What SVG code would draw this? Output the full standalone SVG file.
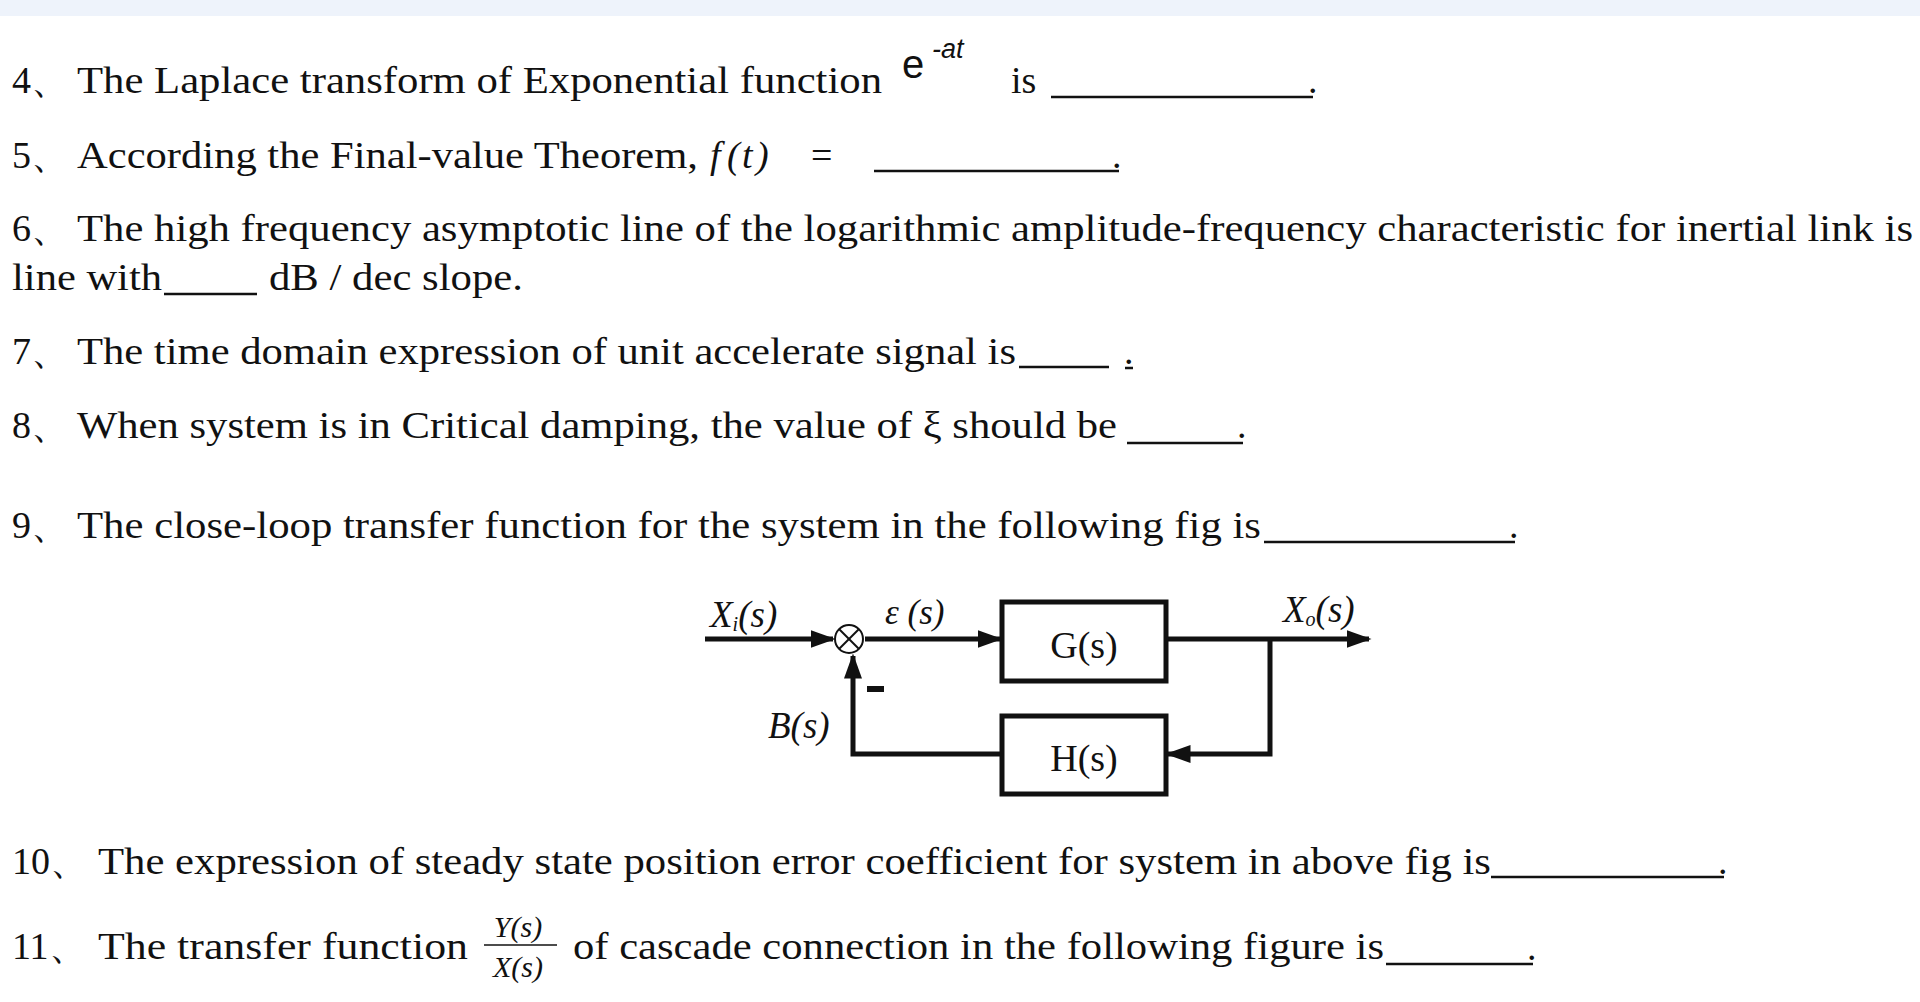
<svg xmlns="http://www.w3.org/2000/svg" width="1920" height="1002" viewBox="0 0 1920 1002">
<defs>
<style>
.t{font-family:"Liberation Serif","Times New Roman",serif;font-size:38px;fill:#111}
.i{font-family:"Liberation Serif",serif;font-style:italic;fill:#111}
.s{font-family:"Liberation Sans",Arial,sans-serif;fill:#111}
.u{stroke:#111;stroke-width:2.5}
.w{stroke:#111;stroke-width:5;fill:none}
.box{stroke:#111;stroke-width:5;fill:#fff}
</style>
<marker id="ah" markerWidth="5" markerHeight="3.6" refX="4.5" refY="1.8" orient="auto" markerUnits="strokeWidth"><path d="M0,0 L5,1.8 L0,3.6 z" fill="#111"/></marker>
</defs>
<rect width="1920" height="1002" fill="#fff"/>
<rect width="1920" height="16" fill="#eef3fb"/>
<g id="q4">
<text class="t" x="12" y="93">4、</text>
<text class="t" x="77" y="93" textLength="805" lengthAdjust="spacingAndGlyphs">The Laplace transform of Exponential function</text>
<text class="s" x="902" y="78" font-size="40">e</text>
<text class="s" x="932" y="58" font-size="27" font-style="italic">-at</text>
<text class="t" x="1011" y="93">is</text>
<line class="u" x1="1051" y1="97" x2="1313" y2="97"/><text class="t" x="1308" y="93">.</text>
</g>
<g id="q5">
<text class="t" x="12" y="168">5、</text>
<text class="t" x="77" y="168" textLength="621" lengthAdjust="spacingAndGlyphs">According the Final-value Theorem,</text>
<text class="i" x="710" y="168" font-size="38">f</text><text class="i" x="727" y="168" font-size="38" font-style="normal">(</text><text class="i" x="742" y="168" font-size="38">t</text><text class="i" x="756" y="168" font-size="38" font-style="normal">)</text>
<text class="t" x="811" y="168">=</text>
<line class="u" x1="874" y1="171" x2="1119" y2="171"/><text class="t" x="1112" y="168">.</text>
</g>
<g id="q6">
<text class="t" x="12" y="241">6、</text>
<text class="t" x="77" y="241" textLength="1836" lengthAdjust="spacingAndGlyphs">The high frequency asymptotic line of the logarithmic amplitude-frequency characteristic for inertial link is</text>
<text class="t" x="12" y="290" textLength="150" lengthAdjust="spacingAndGlyphs">line with</text>
<line class="u" x1="164" y1="294" x2="257" y2="294"/>
<text class="t" x="269" y="290" textLength="254" lengthAdjust="spacingAndGlyphs">dB / dec slope.</text>
</g>
<g id="q7">
<text class="t" x="12" y="364">7、</text>
<text class="t" x="77" y="364" textLength="939" lengthAdjust="spacingAndGlyphs">The time domain expression of unit accelerate signal is</text>
<line class="u" x1="1019" y1="367" x2="1109" y2="367"/><text class="t" x="1124" y="364">.</text><line class="u" x1="1125" y1="368" x2="1133" y2="368"/>
</g>
<g id="q8">
<text class="t" x="12" y="438">8、</text>
<text class="t" x="77" y="438" textLength="1040" lengthAdjust="spacingAndGlyphs">When system is in Critical damping, the value of ξ should be</text>
<line class="u" x1="1127" y1="443" x2="1243" y2="443"/><text class="t" x="1237" y="438">.</text>
</g>
<g id="q9">
<text class="t" x="12" y="538">9、</text>
<text class="t" x="77" y="538" textLength="1184" lengthAdjust="spacingAndGlyphs">The close-loop transfer function for the system in the following fig is</text>
<line class="u" x1="1264" y1="542" x2="1515" y2="542"/><text class="t" x="1509" y="538">.</text>
</g>
<g id="connectors">
<line class="w" x1="705" y1="639" x2="833" y2="639" marker-end="url(#ah)"/>
<line class="w" x1="865" y1="639" x2="1000" y2="639" marker-end="url(#ah)"/>
<line class="w" x1="1166" y1="639" x2="1369" y2="639" marker-end="url(#ah)"/>
<polyline class="w" points="1270,639 1270,754 1168,754" marker-end="url(#ah)"/>
<polyline class="w" points="1002,754 853,754 853,656" marker-end="url(#ah)"/>
<line x1="867" y1="689" x2="884" y2="689" stroke="#111" stroke-width="6"/>
</g>
<g id="sum">
<circle cx="849" cy="639" r="14" fill="#fff" stroke="#111" stroke-width="2"/>
<line x1="839" y1="629" x2="859" y2="649" stroke="#111" stroke-width="2"/>
<line x1="859" y1="629" x2="839" y2="649" stroke="#111" stroke-width="2"/>
</g>
<g id="G"><rect class="box" x="1002" y="602" width="164" height="79"/><text class="t" x="1084" y="658" text-anchor="middle" font-size="36">G(s)</text></g>
<g id="H"><rect class="box" x="1002" y="716" width="164" height="78"/><text class="t" x="1084" y="771" text-anchor="middle" font-size="36">H(s)</text></g>
<g id="labels">
<text class="i" x="710" y="627" font-size="37">X<tspan font-size="20" dy="4">i</tspan><tspan dy="-4">(s)</tspan></text>
<text class="i" x="885" y="624" font-size="35">ε (s)</text>
<text class="i" x="1283" y="622" font-size="37">X<tspan font-size="20" dy="4">o</tspan><tspan dy="-4">(s)</tspan></text>
<text class="i" x="768" y="738" font-size="37">B(s)</text>
</g>
<g id="q10">
<text class="t" x="12" y="874">10、</text>
<text class="t" x="98" y="874" textLength="1393" lengthAdjust="spacingAndGlyphs">The expression of steady state position error coefficient for system in above fig is</text>
<line class="u" x1="1491" y1="877" x2="1724" y2="877"/><text class="t" x="1718" y="874">.</text>
</g>
<g id="q11">
<text class="t" x="12" y="959">11、</text>
<text class="t" x="98" y="959" textLength="370" lengthAdjust="spacingAndGlyphs">The transfer  function</text>
<text class="i" x="518" y="937" font-size="30" text-anchor="middle">Y(s)</text>
<line x1="484" y1="945" x2="557" y2="945" stroke="#111" stroke-width="1.5"/>
<text class="i" x="518" y="977" font-size="30" text-anchor="middle">X(s)</text>
<text class="t" x="573" y="959" textLength="811" lengthAdjust="spacingAndGlyphs">of cascade connection in the following figure is</text>
<line class="u" x1="1386" y1="964" x2="1533" y2="964"/><text class="t" x="1527" y="960">.</text>
</g>
</svg>
